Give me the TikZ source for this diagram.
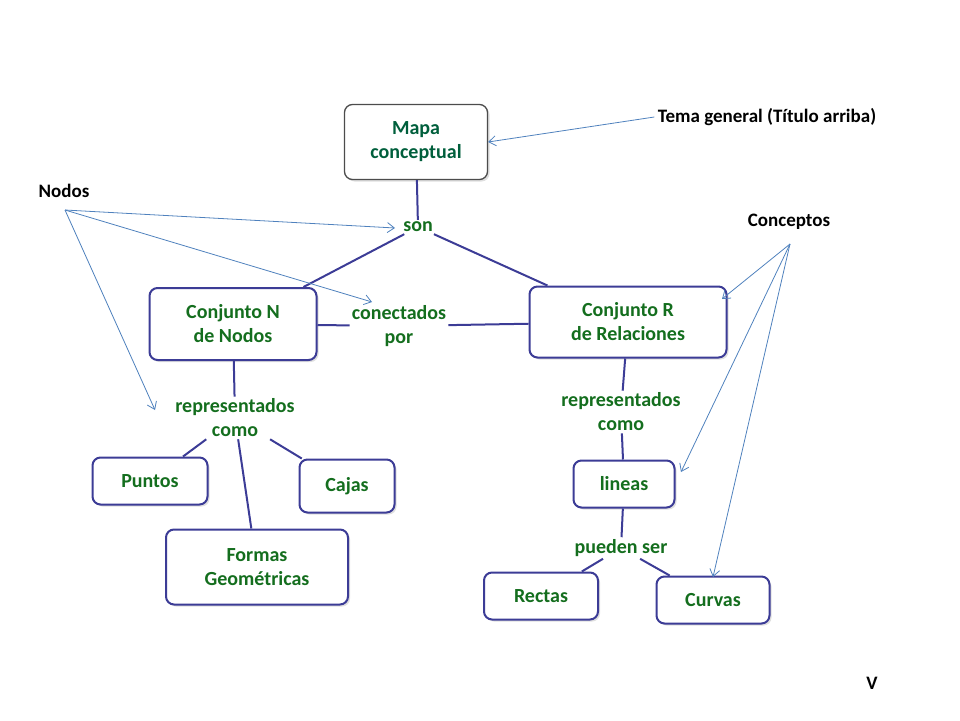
\documentclass[tikz,border=0pt]{standalone}
\usepackage{fontspec}
\setmainfont{Carlito}
\usetikzlibrary{arrows.meta,shadows}
\definecolor{tg}{RGB}{20,110,30}
\definecolor{tdg}{RGB}{0,95,60}
\definecolor{ln}{RGB}{60,60,150}
\definecolor{an}{RGB}{79,129,189}
\tikzset{
 concept/.style={draw=ln,line width=2pt,rounded corners=8pt,fill=white,align=center,font=\fontsize{20}{24}\selectfont\bfseries,text=tg,drop shadow={shadow xshift=2pt,shadow yshift=-2pt,fill=black!25}},
 lab/.style={align=center,font=\fontsize{20}{24}\selectfont\bfseries,text=tg,inner sep=2pt},
 link/.style={draw=ln,line width=2pt},
 ann/.style={draw=an,line width=0.8pt,-{Straight Barb[length=7pt,width=10pt]}},
 note/.style={font=\fontsize{19}{22}\selectfont\bfseries,text=black}
}
\begin{document}
\begin{tikzpicture}[x=1pt,y=-1pt]
\useasboundingbox (0,0) rectangle (960,720);
\node[concept,draw=black!70,line width=1.3pt,minimum width=143pt,minimum height=75pt,text=tdg,drop shadow={opacity=0}] (mapa) at (416,142) {Mapa\\conceptual};
\node[lab] (son) at (418,227) {son};
\node[concept,minimum width=167pt,minimum height=72pt] (cn) at (233,324) {Conjunto N\\de Nodos};
\node[lab] (con) at (399,326) {conectados\\por};
\node[concept,minimum width=197pt,minimum height=71pt] (cr) at (628,322) {Conjunto R\\de Relaciones};
\node[lab] (rl) at (235,418) {representados\\como};
\node[lab] (rr) at (621,412) {representados\\como};
\node[concept,minimum width=115pt,minimum height=47pt] (pun) at (150,481) {Puntos};
\node[concept,minimum width=95pt,minimum height=53pt] (caj) at (347,486) {Cajas};
\node[concept,minimum width=182pt,minimum height=75pt] (for) at (257,567) {Formas\\Geométricas};
\node[concept,minimum width=101pt,minimum height=47pt] (lin) at (624,484) {lineas};
\node[lab] (pue) at (621,548) {pueden ser};
\node[concept,minimum width=114pt,minimum height=47pt] (rec) at (541,596) {Rectas};
\node[concept,minimum width=113pt,minimum height=47pt] (cur) at (713,600) {Curvas};
\node[note] (tema) at (767,117) {Tema general (Título arriba)};
\node[note] (nodos) at (64,191) {Nodos};
\node[note] (conc) at (789,222) {Conceptos};
\node[note] (v) at (872,683) {V};
\draw[link] (mapa) -- (son);
\draw[link] (son) -- (cn);
\draw[link] (son) -- (cr);
\draw[link] (cn) -- (con);
\draw[link] (con) -- (cr);
\draw[link] (cn) -- (rl);
\draw[link] (rl) -- (pun);
\draw[link] (rl) -- (caj);
\draw[link] (rl) -- (for);
\draw[link] (cr) -- (rr);
\draw[link] (rr) -- (lin);
\draw[link] (lin) -- (pue);
\draw[link] (pue) -- (rec);
\draw[link] (pue) -- (cur);
\coordinate (np) at (65,210);
\coordinate (cp) at (790,244);
\draw[ann] (tema.west) -- (mapa.east);
\draw[ann] (np) -- (395,228);
\draw[ann] (np) -- (372,302);
\draw[ann] (np) -- (155,410);
\draw[ann] (cp) -- (722,299);
\draw[ann] (cp) -- (681,472);
\draw[ann] (cp) -- (713,577);
\end{tikzpicture}
\end{document}
